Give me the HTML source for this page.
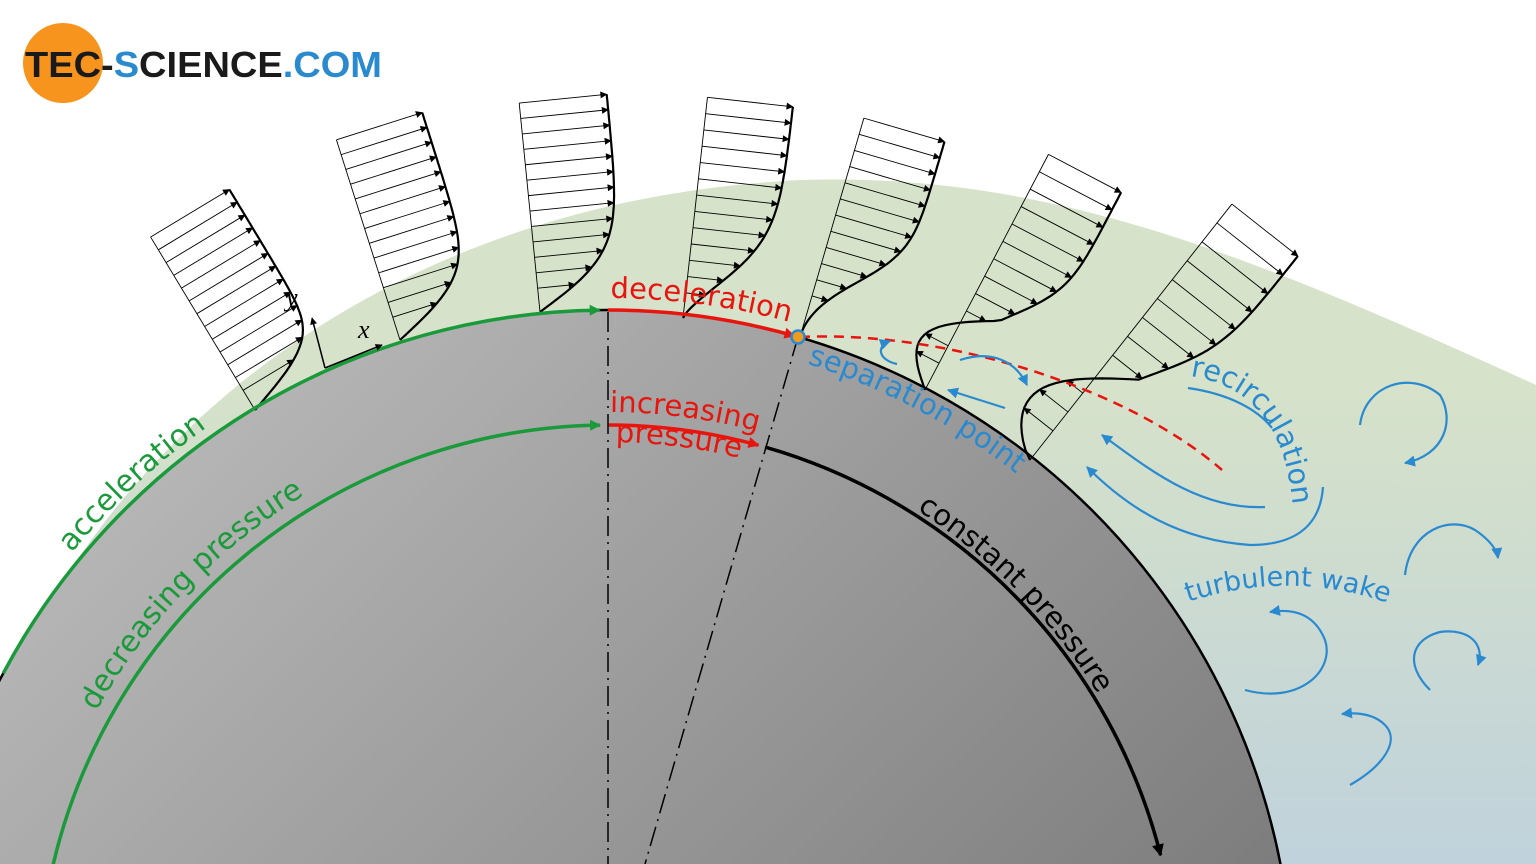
<!DOCTYPE html>
<html><head><meta charset="utf-8"><style>
html,body{margin:0;padding:0;background:#fff;width:1536px;height:864px;overflow:hidden}
svg{display:block}
text{font-family:"DejaVu Sans","Liberation Sans",sans-serif}
</style></head><body>
<svg id="s" width="1536" height="864" viewBox="0 0 1536 864" xmlns="http://www.w3.org/2000/svg">
<defs>
<linearGradient id="cg" x1="0" y1="0" x2="1" y2="1">
<stop offset="0" stop-color="#c4c4c4"/><stop offset="1" stop-color="#5e5e5e"/>
</linearGradient>
<linearGradient id="gg" x1="0" y1="0" x2="0" y2="1">
<stop offset="0.3" stop-color="#d6e2c9"/><stop offset="1" stop-color="#c0d2dc"/>
</linearGradient>
<marker id="ak" viewBox="0 0 10 10" refX="9" refY="5" markerWidth="10" markerHeight="7" orient="auto" markerUnits="userSpaceOnUse"><path d="M0,0 L10,5 L0,10 Z" fill="#000"/></marker>
<marker id="ag" viewBox="0 0 10 10" refX="9" refY="5" markerWidth="16" markerHeight="11" orient="auto" markerUnits="userSpaceOnUse"><path d="M0,0 L10,5 L0,10 Z" fill="#1a9a3a"/></marker>
<marker id="ar" viewBox="0 0 10 10" refX="9" refY="5" markerWidth="16" markerHeight="11" orient="auto" markerUnits="userSpaceOnUse"><path d="M0,0 L10,5 L0,10 Z" fill="#e8140e"/></marker>
<marker id="ab" viewBox="0 0 10 10" refX="9" refY="5" markerWidth="20" markerHeight="12" orient="auto" markerUnits="userSpaceOnUse"><path d="M0,0 L10,5 L0,10 Z" fill="#000"/></marker>
<marker id="au" viewBox="0 0 10 10" refX="9" refY="5" markerWidth="14" markerHeight="11" orient="auto" markerUnits="userSpaceOnUse"><path d="M0,0 L10,5 L0,10 Z" fill="#2a8ad0"/></marker>
</defs>
<path d="M0,700 C120,420 400,200 800,180 C1050,172 1250,255 1536,385 L1536,864 L0,864 Z" fill="url(#gg)"/>
<circle cx="608" cy="995" r="685" fill="url(#cg)" stroke="#000" stroke-width="2.5"/>
<g id="prof"></g>
<g id="arcs"></g>
<line x1="608" y1="312" x2="608" y2="864" stroke="#000" stroke-width="1.5" stroke-dasharray="20 6 2 6"/>
<line x1="798" y1="337" x2="645" y2="864" stroke="#000" stroke-width="1.5" stroke-dasharray="20 6 2 6"/>
<path d="M800,337 C950,330 1130,390 1222,470" fill="none" stroke="#e8140e" stroke-width="2.5" stroke-dasharray="10 7"/>
<circle cx="798" cy="337" r="6.5" fill="#f39a1e" stroke="#2a8ad0" stroke-width="2.5"/>
<g fill="none" stroke="#2a8ad0" stroke-width="2.2" marker-end="url(#au)">
<path d="M897,364 C878,360 876,346 890,341"/>
<path d="M960,360 C990,350 1015,360 1027,385"/>
<path d="M1005,408 L948,390"/>
<path d="M1265,507 C1200,510 1150,470 1102,435"/>
<path d="M1323,487 C1320,530 1290,545 1250,545 C1180,540 1130,510 1087,467"/>
<path d="M1360,425 C1365,385 1410,370 1440,395 C1455,420 1445,455 1405,463"/>
<path d="M1405,575 C1410,530 1450,515 1475,530 C1490,540 1497,550 1498,558"/>
<path d="M1245,690 C1300,705 1335,670 1325,640 C1315,615 1295,608 1270,612"/>
<path d="M1430,690 C1405,665 1410,640 1440,632 C1470,628 1485,645 1478,665"/>
<path d="M1350,785 C1385,765 1400,740 1385,725 C1375,715 1360,712 1342,714"/>
</g>
<path d="M1188,388 C1230,394 1258,410 1272,428" fill="none" stroke="#2a8ad0" stroke-width="2.2"/>
<g stroke="#000" stroke-width="1.5" fill="none">
<line x1="325" y1="368" x2="312" y2="318" marker-end="url(#ak)"/>
<line x1="325" y1="368" x2="382" y2="345" marker-end="url(#ak)"/>
</g>
<text x="286" y="306" font-size="26" font-style="italic" style="font-family:'Liberation Serif',serif">y</text>
<text x="358" y="338" font-size="26" font-style="italic" style="font-family:'Liberation Serif',serif">x</text>
<g id="txt"></g>
<circle cx="63" cy="63" r="40" fill="#f7941d"/>
<text x="25" y="77" font-size="36" font-weight="bold" textLength="357" lengthAdjust="spacingAndGlyphs" style="font-family:'Liberation Sans',sans-serif"><tspan fill="#1a1a1a">TEC-</tspan><tspan fill="#2a8ad0">S</tspan><tspan fill="#1a1a1a">CIENCE</tspan><tspan fill="#2a8ad0">.COM</tspan></text>
</svg>
<script>
var NS="http://www.w3.org/2000/svg",cx=608,cy=995;
var s=document.getElementById('s');
function el(t,a,p){var e=document.createElementNS(NS,t);for(var k in a)e.setAttribute(k,a[k]);(p||s).appendChild(e);return e;}
function pt(r,a){a=a*Math.PI/180;return [cx+r*Math.sin(a),cy-r*Math.cos(a)];}
function arc(r,a1,a2){var p=pt(r,a1),q=pt(r,a2);return "M"+p[0].toFixed(1)+","+p[1].toFixed(1)+" A"+r+","+r+" 0 0 1 "+q[0].toFixed(1)+","+q[1].toFixed(1);}
var P=document.getElementById('prof');
function tanh(x){return Math.tanh(x);}
var profs=[
 [255,410,202,92,function(e){return tanh(e/0.15);}],
 [400,340,210,90,function(e){return tanh(e/0.2);}],
 [540,312,210,88,function(e){return tanh(e/0.25);}],
 [683,318,222,86,function(e){return tanh(Math.pow(e/0.35,1.3));}],
 [800,337,228,84,function(e){return tanh(Math.pow(e/0.42,2));}],
 [925,390,266,82,function(e){return tanh(Math.pow(e/0.5,2.5))-(e<0.36?0.4*Math.sin(Math.PI*e/0.36):0);}],
 [1030,460,326,84,function(e){return tanh(Math.pow(e/0.55,2.5))-(e<0.4?0.5*Math.sin(Math.PI*Math.pow(e/0.4,0.8)):0);}]
];
profs.forEach(function(p){
 var wx=p[0],wy=p[1],L=p[2],U=p[3],f=p[4];
 var dx=wx-cx,dy=wy-cy,d=Math.hypot(dx,dy);var nx=dx/d,ny=dy/d;var tx=-ny,ty=nx;
 el('line',{x1:wx,y1:wy,x2:wx+nx*L,y2:wy+ny*L,stroke:'#000','stroke-width':0.9},P);
 var pts=[];for(var i=0;i<=60;i++){var e=i/60,u=U*f(e);pts.push((wx+nx*L*e+tx*u).toFixed(1)+","+(wy+ny*L*e+ty*u).toFixed(1));}
 var n=13;
 for(var j=1;j<=n;j++){var e=0.04+0.96*j/n;var u=U*f(e);if(Math.abs(u)<9)continue;
  var bx=wx+nx*L*e,by=wy+ny*L*e;
  el('line',{x1:bx,y1:by,x2:bx+tx*u,y2:by+ty*u,stroke:'#000','stroke-width':0.9,'marker-end':'url(#ak)'},P);}
 el('polyline',{points:pts.join(' '),fill:'none',stroke:'#000','stroke-width':2.2},P);
});
var A=document.getElementById('arcs');
el('path',{d:arc(685,-62,-0.7),fill:'none',stroke:'#1a9a3a','stroke-width':3.5,'marker-end':'url(#ag)'},A);
el('path',{d:arc(570,-78,-0.8),fill:'none',stroke:'#1a9a3a','stroke-width':3.5,'marker-end':'url(#ag)'},A);
el('path',{d:arc(685,0,15.8),fill:'none',stroke:'#e8140e','stroke-width':3.5,'marker-end':'url(#ar)'},A);
el('path',{d:arc(570,0,15.3),fill:'none',stroke:'#e8140e','stroke-width':3.5,'marker-end':'url(#ar)'},A);
el('path',{d:arc(570,16,75.8),fill:'none',stroke:'#000','stroke-width':3.5,'marker-end':'url(#ab)'},A);
var T=document.getElementById('txt');var defs=s.querySelector('defs');var k=0;
function tp(d,str,col,size,off){var id='tp'+(k++);el('path',{id:id,d:d},defs);var t=el('text',{fill:col,'font-size':size},T);var q=el('textPath',{href:'#'+id,startOffset:off||0},t);q.textContent=str;}
tp(arc(695,-50.5,-20),"acceleration",'#1a9a3a',30);
tp(arc(585,-61,-20),"decreasing pressure",'#1a9a3a',30);
tp(arc(697,0.2,20),"deceleration",'#e8140e',29);
tp(arc(583,0.2,20),"increasing",'#e8140e',29);
tp(arc(553,0.8,20),"pressure",'#e8140e',29);
tp(arc(662,17.5,45),"separation point",'#2a8ad0',29);
tp(arc(575,32.5,80),"constant pressure",'#000',29);
tp("M1190,376 C1258,386 1292,436 1294,530","recirculation",'#2a8ad0',29);
tp("M1188,602 Q1300,565 1412,612","turbulent wake",'#2a8ad0',27);
</script>
</body></html>
